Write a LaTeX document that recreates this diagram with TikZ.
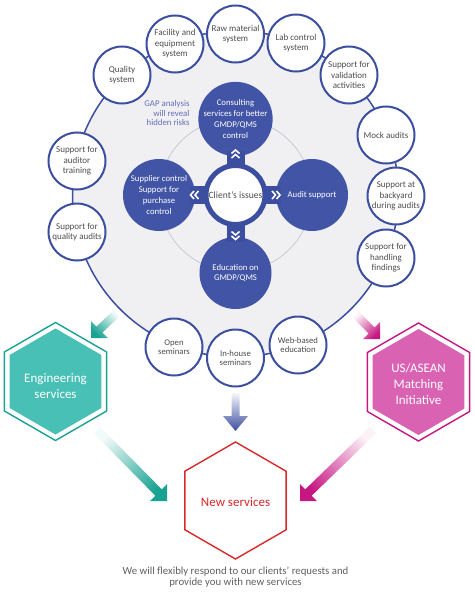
\documentclass[tikz,border=0pt]{standalone}
\usepackage{fontspec}
\setmainfont{Carlito}
\usetikzlibrary{calc}
\definecolor{cobalt}{RGB}{60, 78, 160}
\definecolor{sapphire}{RGB}{66, 84, 166}
\definecolor{mist}{RGB}{240, 240, 242}
\definecolor{silver}{RGB}{200, 201, 210}
\definecolor{slate}{RGB}{77, 77, 80}
\definecolor{periwinkle}{RGB}{98, 110, 186}
\definecolor{lagoon}{RGB}{24, 162, 146}
\definecolor{aqua}{RGB}{73, 192, 182}
\definecolor{orchid}{RGB}{198, 22, 130}
\definecolor{blossom}{RGB}{217, 98, 178}
\definecolor{crimson}{RGB}{216, 40, 42}
\definecolor{ash}{RGB}{95, 95, 98}
\newcommand{\hexagon}[3][]{\draw[#1] ($(#2)+(90:#3)$) -- ($(#2)+(150:#3)$) -- ($(#2)+(210:#3)$)
      -- ($(#2)+(270:#3)$) -- ($(#2)+(330:#3)$) -- ($(#2)+(30:#3)$) -- cycle;}
\tikzset{
  topic/.style={circle, draw=cobalt, line width=2pt, fill=white, minimum size=57pt, inner sep=0pt,
                align=center, text=slate, font=\fontsize{9}{10.5}\selectfont},
  topiclow/.style={topic, font=\fontsize{8.7}{9.5}\selectfont},
  core/.style={circle, fill=sapphire, minimum size=72pt, inner sep=0pt, align=center, text=white,
               font=\fontsize{8.7}{10.7}\selectfont},
  neck/.style={cobalt, line width=18pt},
  chev/.style={white, line width=1.6pt},
  hextext/.style={align=center, font=\fontsize{13}{16}\selectfont}
}
\begin{document}
\begin{tikzpicture}[x=1pt, y=-1pt]
  \useasboundingbox (0,0) rectangle (474,594);
  \node[circle, draw=cobalt, fill=mist, line width=1.5pt, minimum size=326pt, inner sep=0pt] (hub)   at (235.5,194) {};
  \node[circle, draw=silver, line width=0.8pt, minimum size=153pt, inner sep=0pt]            (track) at (235.5,195) {};

  \node[core] (consult)  at (235.5,119) {Consulting\\services for better\\GMDP/QMS\\control};
  \node[core] (supplier) at (159.0,195) {Supplier control\\Support for\\purchase\\control};
  \node[core] (audit)    at (312.0,195) {Audit support};
  \node[core] (educ)     at (235.5,273) {Education on\\GMDP/QMS};
  \draw[neck] (235.5,195) -- ($(consult.south)+(0,-5)$);
  \draw[neck] (235.5,195) -- ($(supplier.east)+(-5,0)$);
  \draw[neck] (235.5,195) -- ($(audit.west)+(5,0)$);
  \draw[neck] (235.5,195) -- ($(educ.north)+(0,5)$);
  \node[circle, draw=cobalt, line width=5pt, fill=white, minimum size=59pt, inner sep=0pt, text=slate,
        font=\fontsize{9.6}{12}\selectfont] (client) at (235.5,195) {Client's issues};
  \foreach \d in {0,4.5} {
    \draw[chev] ($(client.north)+(-4,-9.5+\d)$) -- ($(client.north)+(0,-13+\d)$) -- ($(client.north)+(4,-9.5+\d)$);
    \draw[chev] ($(client.south)+(-4,4.5+\d)$)  -- ($(client.south)+(0,8+\d)$)   -- ($(client.south)+(4,4.5+\d)$);
    \draw[chev] ($(client.west)+(-9.5+\d,-4)$)  -- ($(client.west)+(-13+\d,0)$)  -- ($(client.west)+(-9.5+\d,4)$);
    \draw[chev] ($(client.east)+(4.5+\d,-4)$)   -- ($(client.east)+(8+\d,0)$)    -- ($(client.east)+(4.5+\d,4)$);
  }
  \node[align=right, anchor=east, text=periwinkle, font=\fontsize{8.8}{9.5}\selectfont] (gap) at (193,113)
       {GAP analysis\\will reveal\\hidden risks};

  \node[topic]    (quality)  at (122, 75) {Quality\\system};
  \node[topic]    (facility) at (175, 44) {Facility and\\equipment\\system};
  \node[topic]    (raw)      at (235.5,34) {Raw material\\system};
  \node[topic]    (lab)      at (296, 43) {Lab control\\system};
  \node[topic]    (valid)    at (349, 75) {Support for\\validation\\activities};
  \node[topic]    (mock)     at (386,135) {Mock audits};
  \node[topic]    (backyard) at (396,196) {Support at\\backyard\\during audits};
  \node[topic]    (findings) at (386,258) {Support for\\handling\\findings};
  \node[topic]    (training) at ( 77,161) {Support for\\auditor\\training};
  \node[topic]    (qaudits)  at ( 77,232) {Support for\\quality audits};
  \node[topiclow] (open)     at (174,347) {Open\\seminars};
  \node[topiclow] (inhouse)  at (235.5,358) {In-house\\seminars};
  \node[topiclow] (web)      at (298,345) {Web-based\\education};

  \coordinate (engc) at ( 55.5,381.5);
  \coordinate (usac) at (418.5,382);
  \coordinate (newc) at (235.5,500.5);
  \hexagon[lagoon, line width=1.4pt, fill=white]{engc}{59}
  \hexagon[draw=none, fill=aqua]{engc}{53}
  \hexagon[orchid, line width=1.4pt, fill=white]{usac}{59}
  \hexagon[draw=none, fill=blossom]{usac}{53}
  \hexagon[crimson, line width=1.4pt, fill=white]{newc}{58.5}
  \node[hextext, text=white]   (eng)  at ( 55.5,386) {Engineering\\services};
  \node[hextext, text=white]   (usa)  at (418.5,384) {US/ASEAN\\Matching\\Initiative};
  \node[hextext, text=crimson] (news) at (235.5,502) {New services};

  \coordinate (e1t) at (117,313);   \coordinate (e1h) at ( 91,338);
  \coordinate (m1t) at (356,315);   \coordinate (m1h) at (380,339);
  \coordinate (e2t) at ( 97,430);   \coordinate (e2h) at (167,501);
  \coordinate (m2t) at (373,430);   \coordinate (m2h) at (300,501);
  \coordinate (dt)  at (235.5,393); \coordinate (dh)  at (235.5,431);
  \shade[top color=lagoon!5, bottom color=lagoon, shading angle=-45]
       ($(e1t)+(3,3)$) -- ($(e1h)+(11.5,-5.5)$) -- ($(e1h)+(17,0)$) -- (e1h) -- ($(e1h)+(0,-17)$)
       -- ($(e1h)+(5.5,-11.5)$) -- ($(e1t)+(-3,-3)$) -- cycle;
  \shade[top color=orchid!5, bottom color=orchid, shading angle=45]
       ($(m1t)+(3,-3)$) -- ($(m1h)+(-5.5,-11.5)$) -- ($(m1h)+(0,-17)$) -- (m1h) -- ($(m1h)+(-17,0)$)
       -- ($(m1h)+(-11.5,-5.5)$) -- ($(m1t)+(-3,3)$) -- cycle;
  \shade[top color=lagoon!5, bottom color=lagoon, shading angle=45]
       ($(e2t)+(3.2,-3.2)$) -- ($(e2h)+(-5.3,-11.7)$) -- ($(e2h)+(0,-17)$) -- (e2h) -- ($(e2h)+(-17,0)$)
       -- ($(e2h)+(-11.7,-5.3)$) -- ($(e2t)+(-3.2,3.2)$) -- cycle;
  \shade[top color=orchid!5, bottom color=orchid, shading angle=-45]
       ($(m2t)+(3.2,3.2)$) -- ($(m2h)+(11.7,-5.3)$) -- ($(m2h)+(17,0)$) -- (m2h) -- ($(m2h)+(0,-17)$)
       -- ($(m2h)+(5.3,-11.7)$) -- ($(m2t)+(-3.2,-3.2)$) -- cycle;
  \shade[top color=cobalt!5, bottom color=cobalt]
       ($(dt)+(-4,0)$) -- ($(dh)+(-4,-15)$) -- ($(dh)+(-12.5,-15)$) -- (dh) -- ($(dh)+(12.5,-15)$)
       -- ($(dh)+(4,-15)$) -- ($(dt)+(4,0)$) -- cycle;

  \node[align=center, text=ash, font=\fontsize{10.8}{10.8}\selectfont] (motto) at (235.5,577)
       {We will flexibly respond to our clients' requests and\\provide you with new services};
\end{tikzpicture}
\end{document}
